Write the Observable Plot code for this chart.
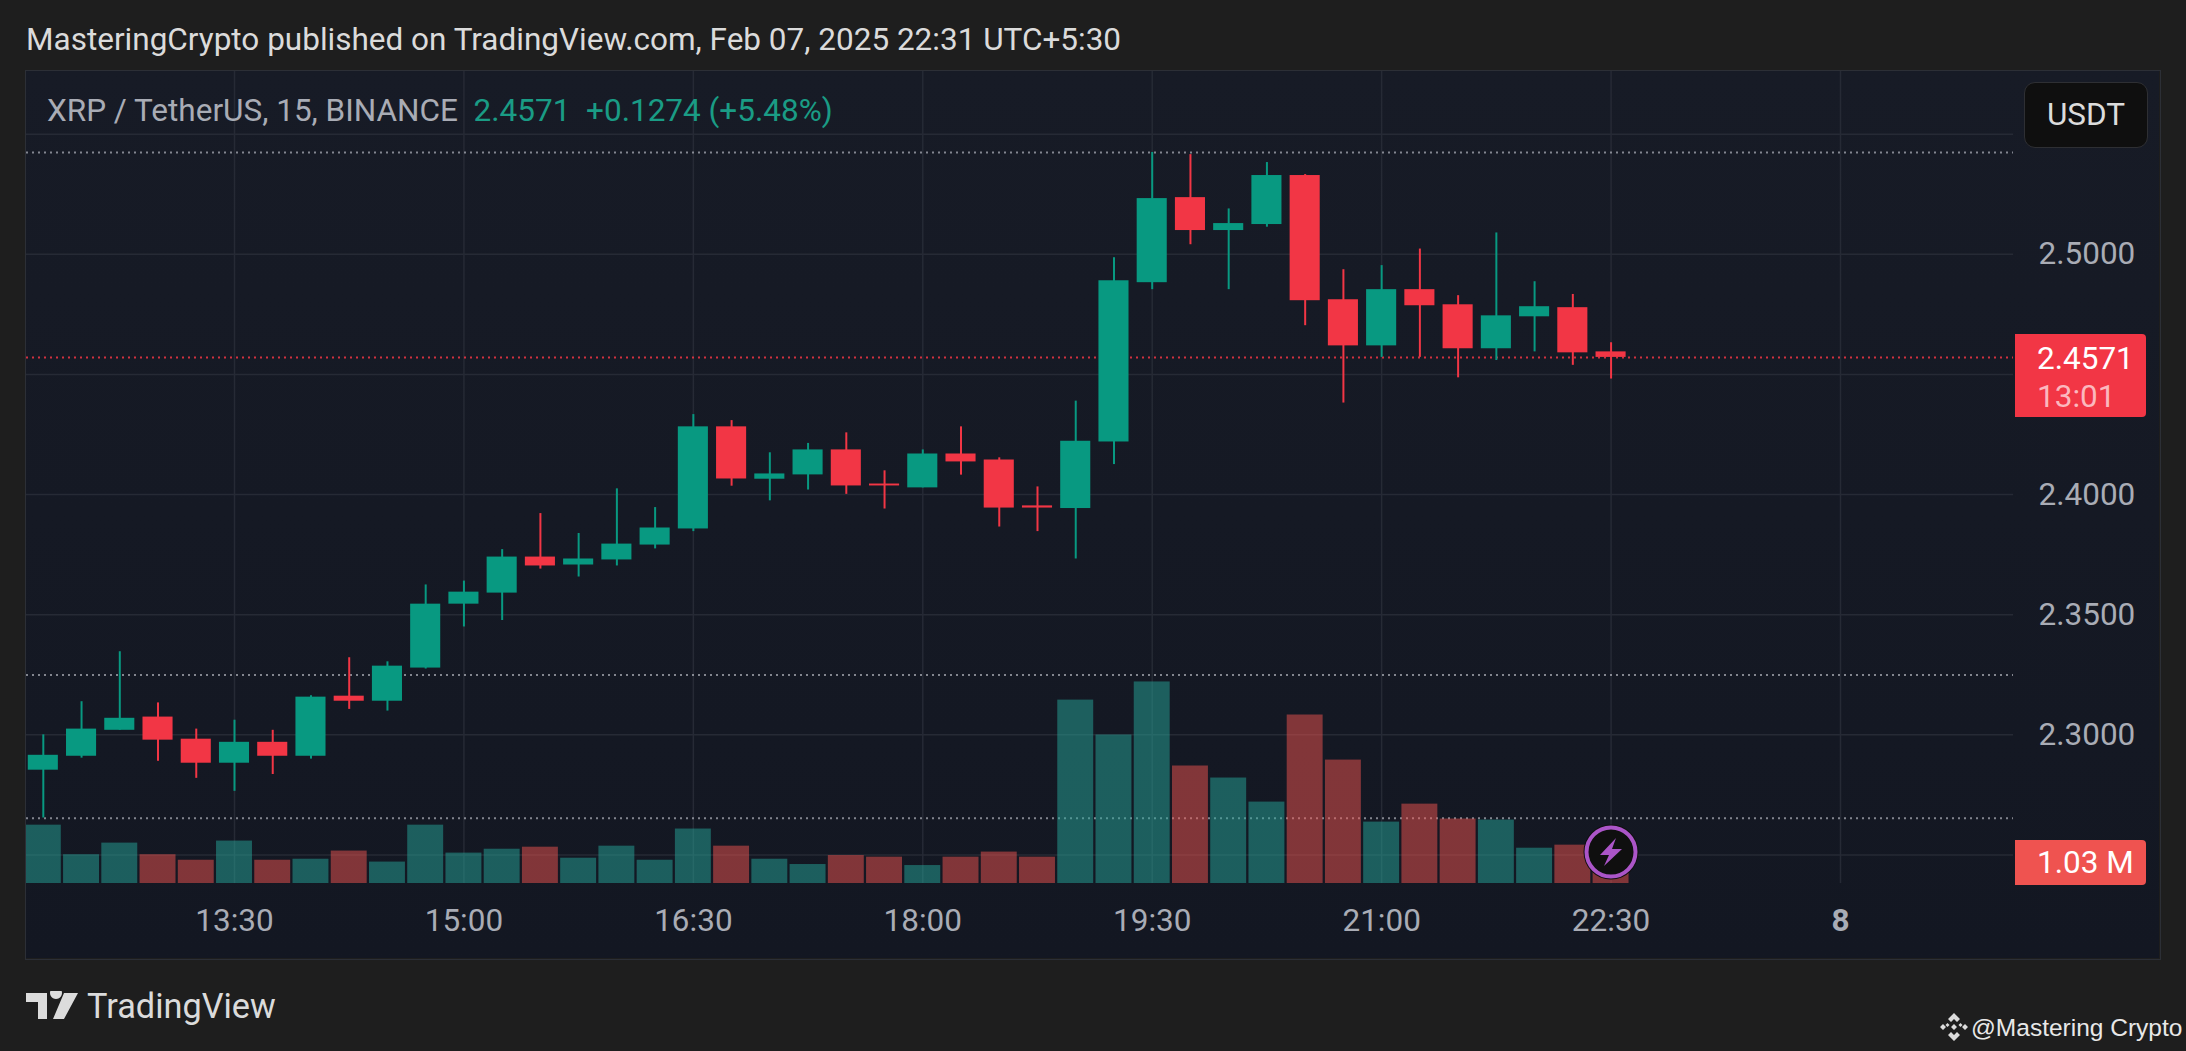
<!DOCTYPE html>
<html>
<head>
<meta charset="utf-8">
<script src="https://cdn.jsdelivr.net/npm/d3@7"></script>
<script src="https://cdn.jsdelivr.net/npm/@observablehq/plot@0.6"></script>
<style>
  html,body{margin:0;padding:0;background:#1e1e1e;width:2186px;height:1051px;overflow:hidden;font-family:Roboto,sans-serif}
  #title{position:absolute;left:26px;top:20px;font-size:31.5px;line-height:40px;color:#dbdbdb;white-space:nowrap}
  #panel{position:absolute;left:26px;top:71px;width:2133px;height:887px;background:linear-gradient(#171b26,#131722)}
  #frame{position:absolute;left:25px;top:70px;width:2134px;height:888px;border:1.5px solid #2c2f36;box-sizing:content-box;pointer-events:none}
  #panel svg{position:absolute;left:0;top:0}
  #legend{position:absolute;left:21px;top:20px;font-size:31.5px;line-height:40px;color:#a9acb5;white-space:pre}
  #legend span{color:#1a9c85}
  #usdt{position:absolute;left:1998px;top:11px;width:124px;height:66px;box-sizing:border-box;background:#0f0f0f;border:1.5px solid #2e2f33;border-radius:11px;color:#dcdcdc;font-size:31.5px;line-height:63px;text-align:center}
  .tag{position:absolute;left:1989px;width:131px;color:#fff;font-size:31.5px;box-sizing:border-box;padding-left:22px}
  #ptag{top:263px;height:83px;background:#f23645;border-radius:0 4px 4px 0;line-height:38px;padding-top:6px}
  #ptag div+div{color:#fbb8be}
  #vtag{top:769px;height:45px;background:#ef5350;border-radius:0 4px 4px 0;line-height:46px}
  #panel #bolt{left:1557px;top:753px;width:56px;height:56px}
  #tv{position:absolute;left:87px;top:986px;font-size:34.3px;line-height:40px;color:#dbdbdb}
  #tvlogo{position:absolute;left:26px;top:991px;width:52px;height:28px}
  #mc{position:absolute;left:1971px;top:1012px;font-family:"Liberation Sans",sans-serif;font-size:24.5px;line-height:32px;color:#e8e8e8;white-space:nowrap}
  #bn{position:absolute;left:1940px;top:1012px;width:28px;height:30px}
</style>
</head>
<body>
<div id="title">MasteringCrypto published on TradingView.com, Feb 07, 2025 22:31 UTC+5:30</div>
<div id="panel"></div>
<div id="frame"></div>
<svg id="tvlogo" viewBox="0 0 52 28"><path fill="#dcdcdc" d="M0 2h21v26h-9V11H0zM24 2a6 6 0 1 1 0 .01zM38 2h14L38 28H27z"/></svg>
<div id="tv">TradingView</div>
<svg id="bn" viewBox="0 0 28 30"><g fill="#dcdcdc"><path d="M14 1l6 6-3 3-3-3-3 3-3-3zM14 29l6-6-3-3-3 3-3-3-3 3zM3 12l3 3-3 3-3-3zM25 12l3 3-3 3-3-3zM14 12l3 3-3 3-3-3zM7.500 11l2 2-2 2-2-2zM20.500 11l2 2-2 2-2-2z"/></g></svg>
<div id="mc">@Mastering Crypto</div>

<script>
// ---- data ----
const times = ["12:15","12:30","12:45","13:00","13:15","13:30","13:45","14:00","14:15","14:30","14:45","15:00","15:15","15:30","15:45","16:00","16:15","16:30","16:45","17:00","17:15","17:30","17:45","18:00","18:15","18:30","18:45","19:00","19:15","19:30","19:45","20:00","20:15","20:30","20:45","21:00","21:15","21:30","21:45","22:00","22:15","22:30"];
const opens  = [2.2853,2.2911,2.3019,2.3074,2.2982,2.2882,2.2969,2.2911,2.3161,2.3140,2.3278,2.3544,2.3590,2.3740,2.3707,2.3728,2.3790,2.3857,2.4282,2.4064,2.4082,2.4186,2.4044,2.4028,2.4169,2.4144,2.3953,2.3942,2.4219,2.4882,2.5236,2.5099,2.5124,2.5328,2.4811,2.4619,2.4853,2.4790,2.4607,2.4740,2.4778,2.4594];
const closes = [2.2915,2.3024,2.3069,2.2978,2.2882,2.2969,2.2911,2.3157,2.3140,2.3286,2.3544,2.3594,2.3740,2.3703,2.3732,2.3794,2.3861,2.4282,2.4065,2.4086,2.4186,2.4036,2.4036,2.4169,2.4136,2.3944,2.3944,2.4222,2.4890,2.5232,2.5099,2.5128,2.5328,2.4807,2.4619,2.4853,2.4786,2.4607,2.4744,2.4782,2.4590,2.4571];
const highs  = [2.3000,2.3138,2.3346,2.3133,2.3024,2.3061,2.3019,2.3163,2.3321,2.3304,2.3624,2.3640,2.3771,2.3921,2.3838,2.4024,2.3946,2.4333,2.4308,2.4174,2.4213,2.4257,2.4099,2.4186,2.4282,2.4153,2.4032,2.4389,2.4986,2.5424,2.5415,2.5189,2.5382,2.5332,2.4936,2.4953,2.5022,2.4828,2.5089,2.4886,2.4833,2.4632];
const lows   = [2.2654,2.2903,2.3019,2.2890,2.2819,2.2765,2.2835,2.2899,2.3106,2.3099,2.3274,2.3449,2.3476,2.3690,2.3657,2.3703,2.3774,2.3846,2.4035,2.3974,2.4019,2.4001,2.3940,2.4028,2.4081,2.3865,2.3846,2.3732,2.4125,2.4853,2.5040,2.4853,2.5113,2.4703,2.4381,2.4571,2.4571,2.4486,2.4558,2.4594,2.4538,2.4481];
const volumes= [2.86,1.41,1.98,1.41,1.14,2.08,1.14,1.19,1.59,1.05,2.86,1.49,1.68,1.78,1.24,1.83,1.14,2.67,1.83,1.19,0.93,1.37,1.29,0.88,1.29,1.54,1.29,8.99,7.28,9.88,5.76,5.17,3.99,8.26,6.05,3.01,3.89,3.16,3.11,1.73,1.88,1.03];
const priceGrid = [2.25,2.30,2.35,2.40,2.45,2.50,2.55];
const priceTicks = [2.30,2.35,2.40,2.50];
const extremeLines = [2.5424,2.3249,2.2653];
const lastPrice = 2.4571;
const timeTickLabels = ["13:30","15:00","16:30","18:00","19:30","21:00","22:30"];
const dayTickLabel = "8";
const legendName = "XRP / TetherUS, 15, BINANCE";
const legendValues = "2.4571  +0.1274 (+5.48%)";
const currency = "USDT";
const priceTag = "2.4571";
const countdown = "13:01";
const volumeTag = "1.03 M";

const at = s => { const [h,m] = s.split(":").map(Number); return new Date(Date.UTC(2025,1,7,h,m)); };
const dayStart = new Date(Date.UTC(2025,1,8,0,0));
const MIN = 60000;
const bars = times.map((t,i) => ({t:at(t), open:opens[i], close:closes[i], high:highs[i], low:lows[i], vol:volumes[i], dir: closes[i] >= opens[i] ? "up" : "down"}));

const W = 2133, H = 887;
const xScale = {type:"utc", domain:[at("13:30"), dayStart], range:[208,1814]};
const colorScale = {domain:["up","down"], range:["#089981","#f23645"]};
const frameOpts = {width:W, height:H, marginLeft:0, marginRight:146, marginTop:0, marginBottom:75,
  style:{background:"transparent", fontFamily:"Roboto, sans-serif"}};

const pricePlot = Plot.plot({
  ...frameOpts,
  x:{...xScale, label:null},
  y:{domain:[2.25,2.55], range:[783.5,62.7], label:null},
  color:colorScale,
  marks:[
    Plot.ruleY(priceGrid,{stroke:"#262a35", strokeWidth:1.5}),
    Plot.ruleX([...timeTickLabels.map(at), dayStart],{stroke:"#262a35", strokeWidth:1.5}),
    Plot.ruleY(extremeLines,{stroke:"#b2b5be", strokeOpacity:.7, strokeWidth:2, strokeDasharray:"2,4"}),
    Plot.ruleY([lastPrice],{stroke:"#f23645", strokeOpacity:.85, strokeWidth:2, strokeDasharray:"2,4"}),
    Plot.ruleX(bars,{x:"t", y1:"low", y2:"high", stroke:"dir", strokeWidth:2}),
    Plot.rect(bars,{x1:d=>+d.t-5.9*MIN, x2:d=>+d.t+5.9*MIN, y1:"open", y2:"close", fill:"dir"}),
    Plot.axisY({anchor:"right", ticks:priceTicks, tickFormat:d3.format(".4f"), tickSize:0, tickPadding:25, fontSize:31.5, fill:"#a9acb5", label:null}),
    Plot.axisX({anchor:"bottom", ticks:timeTickLabels.map(at), tickFormat:d3.utcFormat("%H:%M"), tickSize:0, tickPadding:25, fontSize:31.5, fill:"#a9acb5", label:null}),
    Plot.axisX({anchor:"bottom", ticks:[dayStart], tickFormat:()=>dayTickLabel, tickSize:0, tickPadding:25, fontSize:31.5, fontWeight:"bold", fill:"#a9acb5", label:null})
  ]
});

const volumePlot = Plot.plot({
  ...frameOpts,
  x:{...xScale, axis:null},
  y:{domain:[0,10], range:[812,608], axis:null},
  color:{domain:["up","down"], range:["#26a69a","#ef5350"]},
  marks:[
    Plot.rect(bars,{x1:d=>+d.t-7.05*MIN, x2:d=>+d.t+7.05*MIN, y1:0, y2:"vol", fill:"dir", fillOpacity:.5})
  ]
});

const panel = document.getElementById("panel");
panel.append(pricePlot, volumePlot);

const el = (html) => { const d=document.createElement("div"); d.innerHTML=html; return d.firstElementChild; };
panel.append(el(`<div id="legend">${legendName}  <span>${legendValues}</span></div>`));
panel.append(el(`<div id="usdt">${currency}</div>`));
panel.append(el(`<div id="ptag" class="tag"><div>${priceTag}</div><div>${countdown}</div></div>`));
panel.append(el(`<div id="vtag" class="tag">${volumeTag}</div>`));
panel.append(el(`<svg id="bolt" viewBox="0 0 56 56"><circle cx="28" cy="28" r="27.500" fill="#0f0f0f"/><circle cx="28" cy="28" r="24.500" fill="#0f0f0f" stroke="#ab55c8" stroke-width="4"/><path fill="#ab55c8" d="M33 14L17 31h9l-5 11 18-17h-10z"/></svg>`));
</script>
</body>
</html>
